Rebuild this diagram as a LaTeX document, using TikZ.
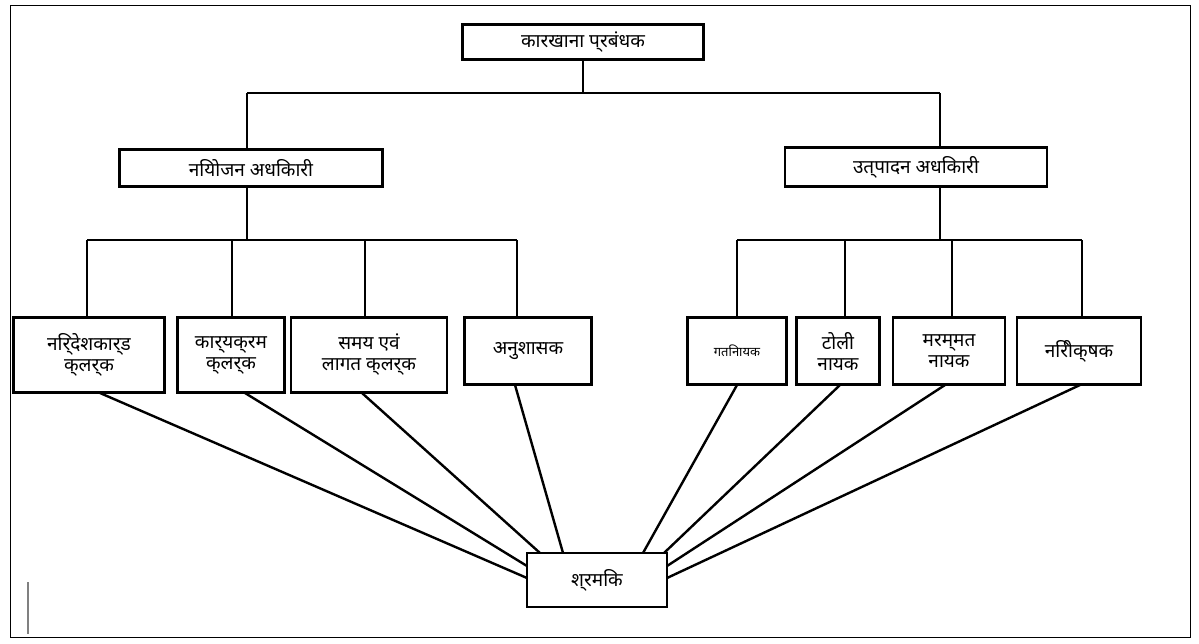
\documentclass[tikz,border=0pt]{standalone}
\usepackage{fontspec}
\setmainfont{Noto Sans}
\begin{document}
\begin{tikzpicture}[x=1pt,y=-1pt,line width=2.4pt,
 bx/.style={draw,line width=2.4pt,inner sep=0pt,align=center,font=\fontsize{19}{21}\selectfont}]
\useasboundingbox (0,0) rectangle (1199,643);
\draw[line width=1pt] (10,5) rectangle (1190,637);
\draw[line width=1.5pt,gray] (28,582) -- (28,634);
\node[bx,minimum width=241,minimum height=35] (top) at (583,42) {कारखाना प्रबंधक};
\node[bx,minimum width=263,minimum height=37] (niy) at (251,168) {नियोजन अधिकारी};
\node[bx,minimum width=262,minimum height=39] (utp) at (916,167) {उत्पादन अधिकारी};
\node[bx,minimum width=151,minimum height=75] (a1) at (89,355) {निर्देशकार्ड\\क्लर्क};
\node[bx,minimum width=107,minimum height=75] (a2) at (231,355) {कार्यक्रम\\क्लर्क};
\node[bx,minimum width=156,minimum height=75] (a3) at (369,355) {समय एवं\\लागत क्लर्क};
\node[bx,minimum width=127,minimum height=67] (a4) at (528,351) {अनुशासक};
\node[bx,minimum width=99,minimum height=67,font=\fontsize{13}{15}\selectfont] (b1) at (737,351) {गतिनायक};
\node[bx,minimum width=83,minimum height=67] (b2) at (838,351) {टोली\\नायक};
\node[bx,minimum width=112,minimum height=67] (b3) at (949,351) {मरम्मत\\नायक};
\node[bx,minimum width=124,minimum height=67] (b4) at (1079,351) {निरीक्षक};
\node[bx,minimum width=140,minimum height=54] (sh) at (597,580) {श्रमिक};
% top tree
\draw (top.south) -- (583,93);
\draw (247,93) -- (940,93);
\draw (247,93) -- (247,149); \draw (940,93) -- (940,147);
% left bus
\draw (247,187) -- (247,240); \draw (87,240) -- (517,240);
\foreach \x in {87,232,365,517} \draw (\x,240) -- (\x,318);
% right bus
\draw (940,187) -- (940,240); \draw (737,240) -- (1082,240);
\foreach \x in {737,845,952,1082} \draw (\x,240) -- (\x,318);
% to sh
\draw (100,393) -- (527,578);
\draw (245,393) -- (527,566);
\draw (362,393) -- (540,553);
\draw (515,385) -- (563,553);
\draw (737,385) -- (643,553);
\draw (840,385) -- (664,553);
\draw (945,385) -- (667,566);
\draw (1080,385) -- (667,578);
\end{tikzpicture}
\end{document}
